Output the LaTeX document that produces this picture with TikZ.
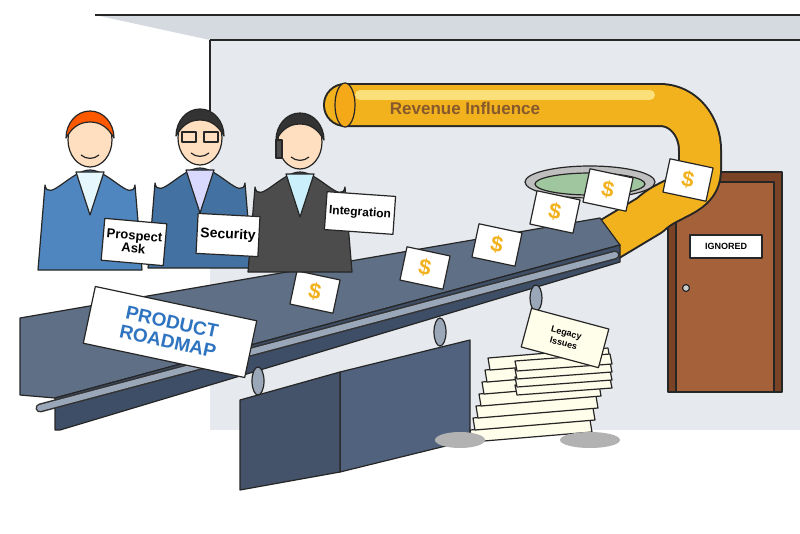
\documentclass[tikz,border=0pt]{standalone}
\usepackage{fontspec}
\setmainfont{Liberation Sans}
\definecolor{belttop}{HTML}{5F6F86}
\definecolor{beltside}{HTML}{3E4E66}
\definecolor{rail}{HTML}{9AA7B8}
\definecolor{legs}{HTML}{50627D}
\definecolor{gold}{HTML}{F2B21E}
\definecolor{goldhi}{HTML}{FBE07A}
\definecolor{wall}{HTML}{E6E9ED}
\definecolor{ceil}{HTML}{D5DAE0}
\definecolor{doorc}{HTML}{A5613A}
\definecolor{doorf}{HTML}{7A4326}
\definecolor{shirt}{HTML}{4F86BF}
\definecolor{road}{HTML}{2F74C0}
\begin{document}
\begin{tikzpicture}[x=1pt,y=-1pt,line join=round,
  ol/.style={draw=black!85,line width=1.2pt},
  card/.style={ol,fill=white},
  dollar/.style={card,minimum width=44pt,minimum height=34pt,rotate=-12,font=\bfseries\fontsize{22}{22}\selectfont,text=gold}]
\useasboundingbox (0,0) rectangle (800,533);
\fill[white] (0,0) rectangle (800,533);
% room
\fill[wall] (210,40) -- (800,40) -- (800,430) -- (210,430) -- cycle;
\fill[ceil] (95,15) -- (800,15) -- (800,40) -- (210,40) -- cycle;
\draw[ol] (95,15) -- (800,15);
\draw[ol] (210,40) -- (800,40);
\draw[ol] (210,40) -- (210,130);
% door
\draw[ol,fill=doorf] (668,172) rectangle (782,392);
\draw[ol,fill=doorc] (676,182) rectangle (774,392);
\node[card,minimum width=72pt,minimum height=23pt,font=\bfseries\small] (ign) at (726,246.5) {IGNORED};
\draw[ol,fill=gray!40] (686,288) circle (3.5);
% pipe
\draw[black!85,line width=44pt,line cap=round] (345,105) -- (660,105) to[out=0,in=90] (700,150) -- (700,170) to[out=-90,in=45] (650,215) -- (600,245);
\draw[gold,line width=40pt,line cap=round] (345,105) -- (660,105) to[out=0,in=90] (700,150) -- (700,170) to[out=-90,in=45] (650,215) -- (600,245);
\draw[goldhi,line width=10pt,line cap=round] (360,95) -- (650,95);
\draw[ol,fill=gold!80!orange] (345,105) ellipse (10 and 22);
\node[font=\bfseries\fontsize{17}{17}\selectfont,text=brown!70!black] (rev) at (465,108) {Revenue Influence};
% hatch
\draw[ol,fill=gray!50] (590,182) ellipse (65 and 16);
\draw[ol,fill=green!25!gray!60] (590,184) ellipse (55 and 11);
% conveyor
\draw[ol,fill=belttop] (20,318) -- (600,218) -- (620,245) -- (55,398) -- (20,395) -- cycle;
\draw[ol,fill=beltside] (55,398) -- (620,245) -- (620,262) -- (60,430) -- (55,430) -- cycle;
\draw[black!80,line width=9pt,line cap=round] (40,408) -- (615,255);
\draw[rail,line width=6pt,line cap=round] (40,408) -- (615,255);
\draw[ol,fill=legs] (340,372) -- (470,340) -- (470,440) -- (340,472) -- cycle;
\draw[ol,fill=legs!85!black] (240,400) -- (340,372) -- (340,472) -- (240,490) -- cycle;
\draw[ol,fill=rail] (258,381) ellipse (6 and 14);
\draw[ol,fill=rail] (440,332) ellipse (6 and 14);
\draw[ol,fill=rail] (536,298) ellipse (6 and 13);
% dollar cards
\node[dollar] (d1) at (315,292) {\$};
\node[dollar] (d2) at (425,268) {\$};
\node[dollar] (d3) at (497,245) {\$};
\node[dollar] (d4) at (555,212) {\$};
\node[dollar] (d5) at (608,190) {\$};
\node[dollar] (d6) at (688,180) {\$};
% product roadmap card
\node[card,minimum width=165pt,minimum height=58pt,rotate=-12,font=\bfseries\fontsize{19}{20}\selectfont,text=road,align=center] (road) at (170,332) {PRODUCT\\ROADMAP};
% legacy pile
\foreach \i in {0,...,6}{
  \draw[ol,fill=yellow!8!white] (470+\i*3,430-\i*12) -- (590+\i*3,420-\i*12) -- (592+\i*3,432-\i*12) -- (472+\i*3,442-\i*12) -- cycle;}
\foreach \i in {0,...,3}{
  \draw[ol,fill=yellow!8!white] (515,385-\i*8) -- (610,378-\i*8) -- (612,388-\i*8) -- (517,395-\i*8) -- cycle;}
\node[card,fill=yellow!8!white,minimum width=80pt,minimum height=40pt,rotate=-15,font=\bfseries\small,align=center] (leg) at (565,338) {Legacy\\Issues};
\fill[gray!60] (460,440) ellipse (25 and 8);
\fill[gray!60] (590,440) ellipse (30 and 8);
% people
\newcommand{\person}[5]{%
  \draw[ol,fill=#3] (#1-52,#2+150) -- (#1-45,#2+65) to[out=-80,in=180] (#1,#2+50) to[out=0,in=-100] (#1+45,#2+65) -- (#1+52,#2+150) -- cycle;
  \draw[ol,fill=#4] (#1-14,#2+52) -- (#1,#2+95) -- (#1+14,#2+52) -- cycle;
  \draw[ol,fill=orange!25!white] (#1,#2+20) ellipse (22 and 27);
  \draw[ol,fill=#5] (#1-24,#2+18) to[out=90,in=180] (#1,#2-9) to[out=0,in=90] (#1+24,#2+18) to[out=120,in=0] (#1,#2+2) to[out=180,in=60] cycle;
  \draw[ol] (#1-9,#2+35) to[out=-40,in=-140] (#1+9,#2+35);}
\person{90}{120}{shirt}{cyan!10}{orange!70!red}
\person{200}{118}{shirt!85!black}{blue!15}{black!80}
\draw[ol] (182,132) rectangle (196,142); \draw[ol] (204,132) rectangle (218,142);
\person{300}{122}{black!70}{cyan!20}{black!80}
\draw[ol,fill=black!70] (276,140) rectangle (282,158);
% held cards
\node[card,minimum width=62pt,minimum height=42pt,rotate=-5,align=center,font=\bfseries\fontsize{13}{13}\selectfont] (pa) at (134,242) {Prospect\\Ask};
\node[card,minimum width=60pt,minimum height=40pt,rotate=-3,font=\bfseries\fontsize{14}{14}\selectfont] (sec) at (228,235) {Security};
\node[card,minimum width=58pt,minimum height=38pt,rotate=-4,font=\bfseries\fontsize{12}{12}\selectfont] (int) at (360,213) {Integration};
\end{tikzpicture}
\end{document}
